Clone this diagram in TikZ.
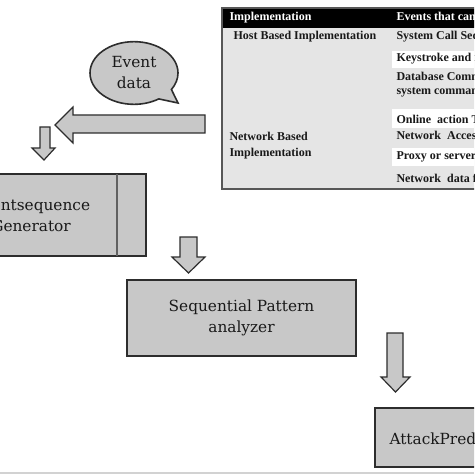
\documentclass[tikz,border=0pt]{standalone}
\usepackage{fontspec}
\setmainfont{DejaVu Serif}
\newfontfamily\tabfont{Liberation Serif}
\usetikzlibrary{shapes.callouts}

\definecolor{boxgray}{RGB}{200,200,200}
\definecolor{edgegray}{RGB}{45,45,45}
\definecolor{tablebg}{RGB}{229,229,229}
\definecolor{inkgray}{RGB}{25,25,25}

\tikzset{every picture/.style={line width=0.75pt}}
\tikzset{
  procbox/.style={draw=edgegray, fill=boxgray, line width=1.2pt},
  blockarrow/.style={draw=edgegray, fill=boxgray, line width=0.9pt, line join=miter},
  boxtext/.style={inner sep=0.75pt, text=inkgray, font=\fontsize{11.5}{15.75}\selectfont, align=center},
  tabhead/.style={anchor=west, inner sep=0.75pt, text=white, font=\tabfont\bfseries\fontsize{9}{12}\selectfont},
  tabcell/.style={anchor=west, inner sep=0.75pt, text=inkgray, font=\tabfont\bfseries\fontsize{9}{12}\selectfont, align=left}
}

\begin{document}
\begin{tikzpicture}[x=0.75pt,y=0.75pt,yscale=-1,xscale=1]
\path[use as bounding box] (0,0) rectangle (474,474);
\clip (0,0) rectangle (474,474);

%Shape: Table frame
\draw [draw=edgegray!80, fill=tablebg, line width=1.5pt] (222,8) rectangle (490,189) ;
\fill [black] (223,9) rectangle (490,28) ;
\fill [white] (392,51) rectangle (490,68) ;
\fill [white] (392,109) rectangle (490,128) ;
\fill [white] (392,148) rectangle (490,166) ;

% Table text
\node (hdimpl) [tabhead] at (228,18) {Implementation};
\node (hdevt) [tabhead] at (395,18) {Events that can be captured};
\node (host) [tabcell] at (232,37) {Host Based Implementation};
\node (netw) [tabcell] at (228,146) {Network Based\\Implementation};
\node (syscall) [tabcell] at (395,37) {System Call Sequences};
\node (keys) [tabcell] at (395,59) {Keystroke and mouse events};
\node (dbcmd) [tabcell] at (395,76) {Database Commands and};
\node (syscmd) [tabcell] at (395,92) {system commands};
\node (online) [tabcell] at (395,119) {Online \ action Transactions};
\node (netacc) [tabcell] at (395,137) {Network \ Access Logs};
\node (proxy) [tabcell] at (395,157) {Proxy or server Logs};
\node (netflow) [tabcell] at (395,178) {Network \ data flow};

%Shape: Callout
\node (evdata) [ellipse callout, draw=edgegray, fill=boxgray, line width=1.2pt, minimum width=66pt, minimum height=47pt, callout absolute pointer={(178,103)}, callout pointer arc=24, boxtext] at (134,73) {Event\\data};

%Shape: Left block arrow
\draw [blockarrow] (205,115) -- (73,115) -- (73,107) -- (55,125) -- (73,143) -- (73,133) -- (205,133) -- cycle ;

%Shape: Down block arrow
\draw [blockarrow] (40,127) -- (50,127) -- (50,148) -- (55,148) -- (44,160) -- (32,148) -- (40,148) -- cycle ;

%Shape: Rectangle
\draw [procbox] (-70,174) rectangle (146,256) ;
\draw [draw=edgegray!75, line width=2.2pt] (117,174) -- (117,256) ;
\node (gen) [boxtext] at (31,216) {Eventsequence\\Generator};

%Shape: Down block arrow
\draw [blockarrow] (180,237) -- (197,237) -- (197,257) -- (205,257) -- (188.5,273) -- (172,257) -- (180,257) -- cycle ;

%Shape: Rectangle
\draw [procbox] (127,280) rectangle (356,356) ;
\node (seq) [boxtext] at (241.5,318) {Sequential Pattern\\analyzer};

%Shape: Down block arrow
\draw [blockarrow] (387,333) -- (403,333) -- (403,377) -- (410,377) -- (395.5,392) -- (381,377) -- (387,377) -- cycle ;

%Shape: Rectangle
\draw [procbox] (375,408) rectangle (600,467) ;
\node (attack) [boxtext, anchor=west] at (388,439) {AttackPrediction};

%Shape: Bottom band
\fill [gray!35] (0,471.5) rectangle (474,474) ;

\end{tikzpicture}
\end{document}
